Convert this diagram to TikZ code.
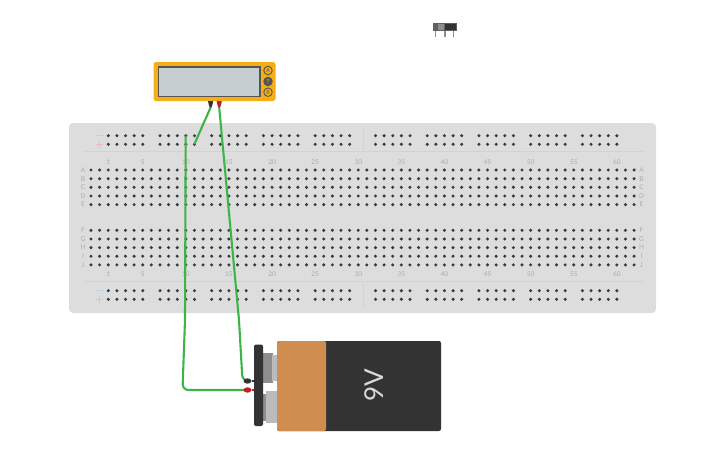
\documentclass[tikz,border=0pt]{standalone}
\usepackage{fontspec}
\setmainfont{Lato}
\usetikzlibrary{shapes.geometric}
\tikzset{
  wire/.style={draw=wiregreen,line width=2.1pt,rounded corners=6pt},
  boardlabel/.style={text=labelgray,font=\fontsize{6.5}{6.5}\selectfont,inner sep=0pt},
  hole/.style={circle,fill=holegray,inner sep=0pt,minimum size=3.4pt},
  lcdbutton/.style={circle,draw=lcdgray,line width=.9pt,inner sep=0pt,minimum size=8.5pt,font=\fontsize{5.5}{5.5}\selectfont,text=lcdgray},
  lead/.style={ellipse,inner sep=0pt,minimum width=8pt,minimum height=5.5pt},
}
\definecolor{wiregreen}{HTML}{3CB44A}
\definecolor{labelgray}{HTML}{ABABAB}
\definecolor{holegray}{HTML}{3A3A3A}
\definecolor{boardgray}{HTML}{DDDDDD}
\definecolor{linegray}{HTML}{D2D2D2}
\definecolor{lcdorange}{HTML}{F5AE14}
\definecolor{lcdscreen}{HTML}{C5CFD1}
\definecolor{lcdgray}{HTML}{555555}
\definecolor{batcopper}{HTML}{CF8D50}
\definecolor{batdark}{HTML}{333333}
\definecolor{termdark}{HTML}{8E8E8E}
\definecolor{termlight}{HTML}{BBBBBB}
\definecolor{leadred}{HTML}{C02020}
\definecolor{railblue}{HTML}{BBD3E4}
\definecolor{railred}{HTML}{F0B8B8}
\begin{document}
\begin{tikzpicture}[x=1pt,y=-1pt]
  \useasboundingbox (0,0) rectangle (725,453);
  % board
  \fill[boardgray,rounded corners=4pt] (69,123) rectangle (656,313);
  \draw[linegray,line width=.4pt] (84,151) -- (644,151);
  \draw[linegray,line width=.4pt] (84,281) -- (644,281);
  \draw[linegray,line width=.4pt] (363,128) -- (363,150);
  \draw[linegray,line width=.4pt] (363,283) -- (363,308);
  % main holes
  \foreach \row/\ypos in {A/170,B/178.7,C/187.3,D/196,E/204.6,F/230.3,G/239,H/247.6,I/256.2,J/264.9} {
    \foreach \col in {0,...,63}
      \node[hole] (h\row\col) at (91+8.62*\col,\ypos) {};
    \node[boardlabel] (l\row) at (83,\ypos) {\row};
    \node[boardlabel] (r\row) at (641.5,\ypos) {\row};
  }
  % rails
  \foreach \ypos in {135.7,144.3,290.7,299.3}
    \foreach \first in {1,7,13,19,25,32,38,44,50,56}
      \foreach \col in {0,...,4}
        \node[hole] (p\ypos-\first-\col) at (108.3+8.62*\first-8.62+8.62*\col,\ypos) {};
  \foreach \ypos in {135.7,290.7}
    \draw[railblue,line width=1.4pt] (96,\ypos) -- (102.5,\ypos);
  \foreach \ypos in {144.3,299.3} {
    \draw[railred,line width=1.4pt] (96,\ypos) -- (102.5,\ypos);
    \draw[railred,line width=1.4pt] (99.2,\ypos-3.2) -- (99.2,\ypos+3.2);
  }
  % numbers
  \foreach \num in {1,5,10,15,...,60} {
    \node[boardlabel] (nt\num) at (108.3+8.62*\num-8.62,162) {\num};
    \node[boardlabel] (nb\num) at (108.3+8.62*\num-8.62,274) {\num};
  }
  % lcd
  \fill[lcdorange,rounded corners=2.5pt] (153.5,62) rectangle (275.5,101);
  \draw[lcdgray,fill=lcdscreen,line width=1.8pt] (158.5,66.8) rectangle (259.8,96.5);
  \node[lcdbutton] (btnA) at (268,70.5) {A};
  \node[lcdbutton,fill=lcdgray,text=lcdorange] (btnL) at (268,81.5) {\textbf{?}};
  \node[lcdbutton] (btnR) at (268,92.2) {R};
  \coordinate (lcdneg) at (210.6,107.5);
  \coordinate (lcdpos) at (219.2,107.5);
  % switch
  \fill[termdark] (434.6,30) rectangle (436.4,36.5);
  \fill[termdark] (444,30) rectangle (445.8,36.5);
  \fill[termdark] (452.6,30) rectangle (454.4,36.5);
  \fill[gray!75!black] (433,23) rectangle (457,31);
  \fill[batdark] (445,24) rectangle (455.5,30);
  \fill[termdark] (438,24) rectangle (444,30);
  % battery
  \fill[termdark] (262,353) rectangle (272.5,383);
  \fill[termlight] (272,355) rectangle (278,381);
  \fill[termdark] (262,394) rectangle (266,421);
  \fill[termlight] (266,391) rectangle (278,423);
  \fill[batdark,rounded corners=2pt] (277,341) rectangle (441,431);
  \fill[batcopper,rounded corners=2pt] (277,341) -- (326,341) -- (326,431) -- (277,431) -- cycle;
  \fill[batdark,rounded corners=2pt] (254,344.5) rectangle (263,426);
  \node[rotate=90,text=white!85!black,font=\fontsize{26}{26}\selectfont] (volt) at (374,385.5) {9V};
  \node[lead] (batneg) at (247.5,381) {};
  \node[lead] (batpos) at (247.5,390) {};
  % wires
  \coordinate (railA) at (185.7,135.7);
  \coordinate (railB) at (194.3,144.3);
  \draw[wire] (lcdneg) -- (railB);
  \draw[wire] (railA) -- (185,320) -- (182.5,390) -- (batpos.center);
  \draw[wire] (lcdpos) -- (239,320) -- (242.5,381) -- (batneg.center);
  % leads
  \fill[batdark] (batneg.center) ellipse (4pt and 2.7pt);
  \fill[leadred] (batpos.center) ellipse (4pt and 2.7pt);
  \draw[batdark,line width=1.2pt] (batneg) -- (254,381);
  \draw[leadred,line width=1.2pt] (batpos) -- (254,390);
  \fill[batdark] (208,101) -- (213.2,101) -- (212.4,105) -- (211.4,107.5) -- (209.8,107.5) -- (208.8,105) -- cycle;
  \fill[leadred] (216.6,101) -- (221.8,101) -- (221,105) -- (220,107.5) -- (218.4,107.5) -- (217.4,105) -- cycle;
\end{tikzpicture}
\end{document}
